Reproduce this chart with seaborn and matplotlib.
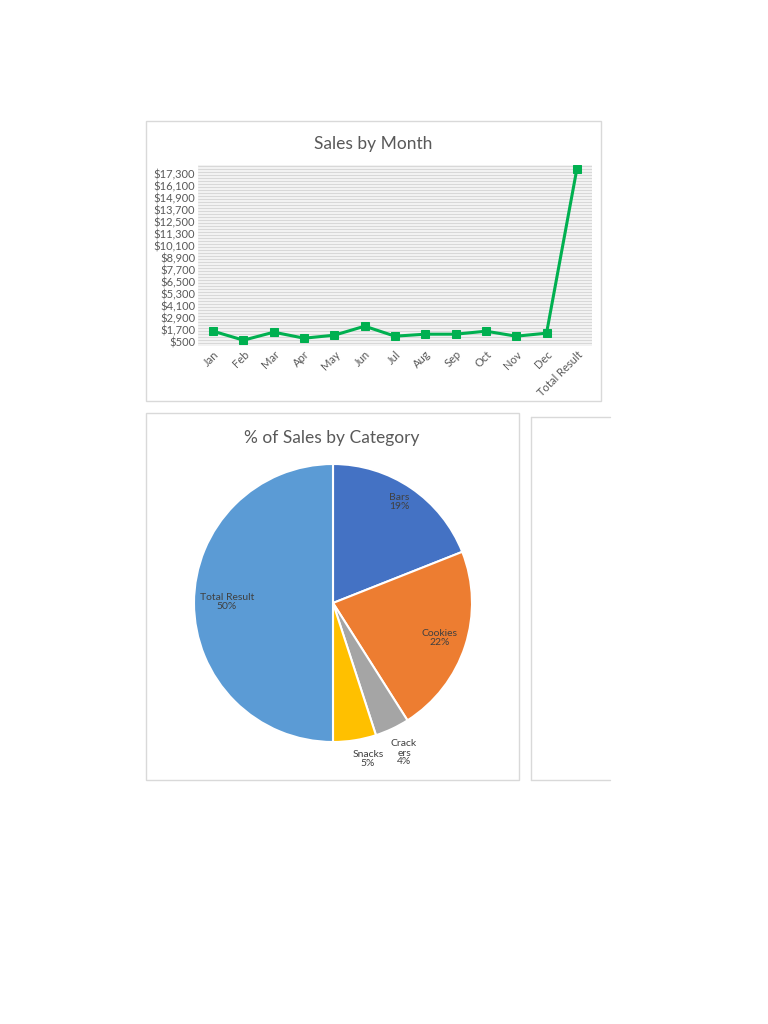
import matplotlib
matplotlib.use("Agg")
import matplotlib.pyplot as plt
from matplotlib.patches import Rectangle
from matplotlib.lines import Line2D
import seaborn as sns
import numpy as np

months = ["Jan", "Feb", "Mar", "Apr", "May", "Jun", "Jul", "Aug", "Sep", "Oct", "Nov", "Dec", "Total Result"]
sales = [1600, 700, 1500, 900, 1200, 2100, 1100, 1300, 1300, 1600, 1100, 1400, 17800]
y_ticks = list(range(500, 17301, 1200))

categories = ["Bars", "Cookies", "Crackers", "Snacks", "Total Result"]
shares = [19, 22, 4, 5, 50]
pie_labels = ["Bars\n19%", "Cookies\n22%", "Crack\ners\n4%", "Snacks\n5%", "Total Result\n50%"]
pie_colors = ["#4472C4", "#ED7D31", "#A5A5A5", "#FFC000", "#5B9BD5"]

sns.set_theme(style="white")
plt.rcParams["font.family"] = ["Lato", "DejaVu Sans"]

W, H = 768, 1024
fig = plt.figure(figsize=(W / 100, H / 100), dpi=100)


def box(x0, y0, x1, y1):
    fig.patches.append(Rectangle((x0 / W, 1 - y1 / H), (x1 - x0) / W, (y1 - y0) / H,
                                 transform=fig.transFigure, fill=False,
                                 edgecolor="#d9d9d9", linewidth=1))


box(146, 121, 601, 401)
box(146, 413, 519, 780)
# third chart box, cut off at the right edge
for xs, ys in [([531, 610], [417, 417]), ([531, 531], [417, 780]), ([531, 610], [780, 780])]:
    fig.lines.append(Line2D([x / W for x in xs], [1 - y / H for y in ys],
                            transform=fig.transFigure, color="#d9d9d9", linewidth=1))

# line chart
ax = fig.add_axes([198 / W, 1 - 346 / H, (592 - 198) / W, (346 - 165) / H])
ax.set_facecolor("#f2f2f2")
for v in range(100, 18201, 300):
    ax.axhline(v, color="#d4d4d4", linewidth=0.6, zorder=0)
sns.lineplot(x=np.arange(len(months)), y=sales, ax=ax, color="#00B050", linewidth=2.2,
             marker="s", markersize=6, markeredgecolor="#00B050")
ax.set_ylim(120, 18200)
ax.set_xlim(-0.5, len(months) - 0.5)
ax.set_yticks(y_ticks)
ax.set_yticklabels([f"${v:,}" for v in y_ticks], fontsize=8, color="#595959")
ax.set_xticks(np.arange(len(months)))
ax.set_xticklabels(months, rotation=45, ha="right", rotation_mode="anchor", fontsize=8, color="#595959")
ax.tick_params(axis="both", length=0, pad=2)
for s in ax.spines.values():
    s.set_visible(False)
fig.text(373 / W, 1 - 144 / H, "Sales by Month", ha="center", va="center", fontsize=12.5, color="#595959")

# pie chart
r = 139
pax = fig.add_axes([(333 - r) / W, 1 - (603 + r) / H, 2 * r / W, 2 * r / H])
wedges, texts = pax.pie(shares, colors=pie_colors, startangle=90, counterclock=False,
                        wedgeprops=dict(edgecolor="white", linewidth=1.5))
pax.set_xlim(-1, 1)
pax.set_ylim(-1, 1)
pax.set_aspect("equal")
label_pos = [(399, 502), (440, 638), (404, 753), (368, 759), (227, 602)]
for (x, y), t in zip(label_pos, pie_labels):
    fig.text(x / W, 1 - y / H, t, ha="center", va="center", fontsize=7.5, color="#404040",
             linespacing=1.0)
fig.text(332 / W, 1 - 438 / H, "% of Sales by Category", ha="center", va="center",
         fontsize=12.5, color="#595959")

fig.savefig("out.png", dpi=100)
